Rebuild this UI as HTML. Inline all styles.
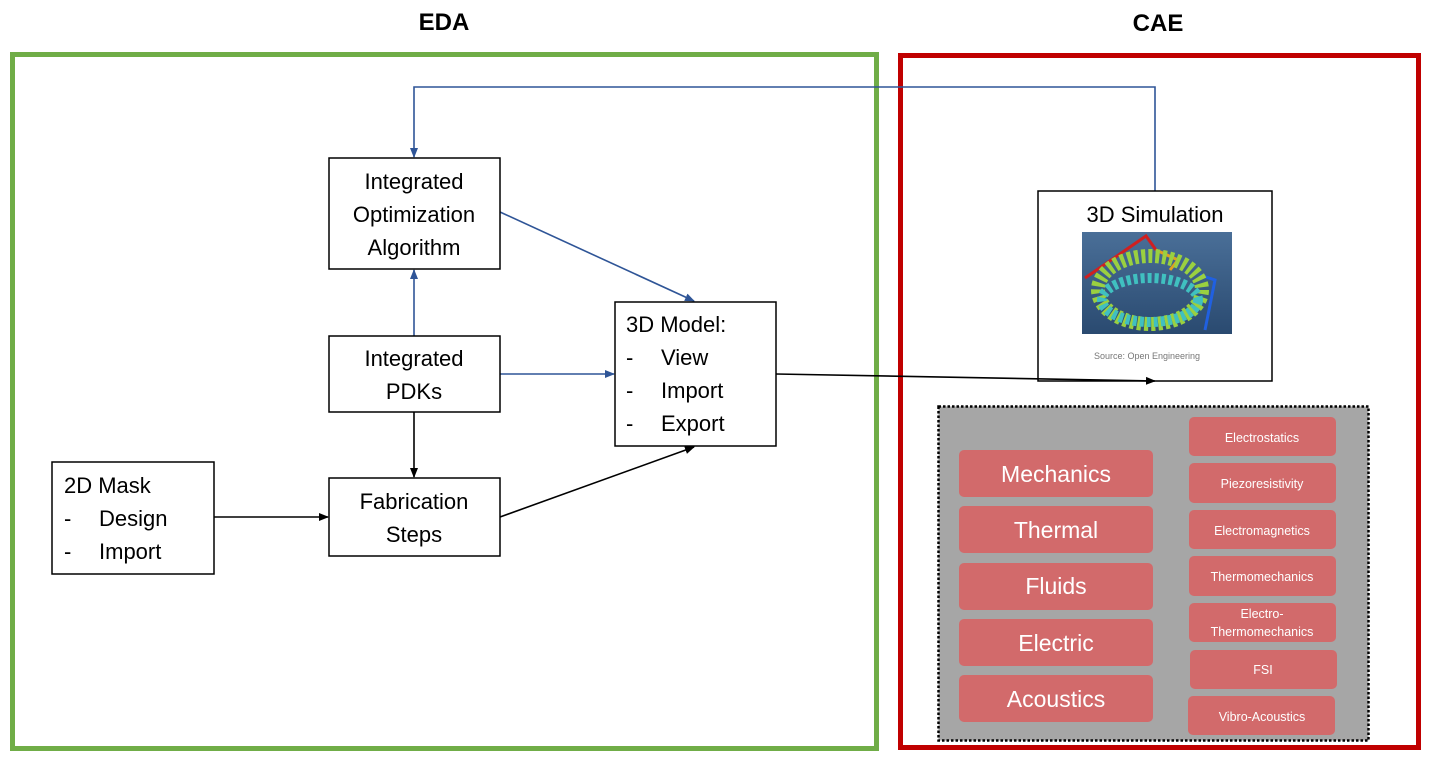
<!DOCTYPE html>
<html><head><meta charset="utf-8"><style>
html,body{margin:0;padding:0;background:#fff;}
svg text{font-family:"Liberation Sans",sans-serif;}
</style></head><body>
<svg width="1431" height="770" viewBox="0 0 1431 770" xmlns="http://www.w3.org/2000/svg">
<defs>
<marker id="ab" markerWidth="10" markerHeight="10" refX="9" refY="5" orient="auto" markerUnits="userSpaceOnUse"><path d="M0,1 L10,5 L0,9 Z" fill="#2f5597"/></marker>
<marker id="ak" markerWidth="10" markerHeight="10" refX="9" refY="5" orient="auto" markerUnits="userSpaceOnUse"><path d="M0,1 L10,5 L0,9 Z" fill="#000"/></marker>
<linearGradient id="bg" x1="0" y1="0" x2="0" y2="1"><stop offset="0" stop-color="#4a6f98"/><stop offset="1" stop-color="#2a4a70"/></linearGradient>
</defs>
<text x="444" y="30" font-size="24" font-weight="bold" text-anchor="middle">EDA</text>
<text x="1158" y="31" font-size="24" font-weight="bold" text-anchor="middle">CAE</text>
<rect x="12.5" y="54.5" width="864" height="694" fill="none" stroke="#70ad47" stroke-width="5"/>
<rect x="900.5" y="55.5" width="518" height="692" fill="none" stroke="#c00000" stroke-width="5"/>

<g fill="none" stroke-width="1.6">
<polyline points="1155,191 1155,87 414,87 414,157" stroke="#2f5597" marker-end="url(#ab)"/>
<line x1="414" y1="336" x2="414" y2="270" stroke="#2f5597" marker-end="url(#ab)"/>
<line x1="500" y1="212" x2="694" y2="301" stroke="#2f5597" marker-end="url(#ab)"/>
<line x1="500" y1="374" x2="614" y2="374" stroke="#2f5597" marker-end="url(#ab)"/>
<line x1="414" y1="412" x2="414" y2="477" stroke="#000" marker-end="url(#ak)"/>
<line x1="214" y1="517" x2="328" y2="517" stroke="#000" marker-end="url(#ak)"/>
<line x1="500" y1="517" x2="694" y2="447" stroke="#000" marker-end="url(#ak)"/>
</g>

<g fill="#fff" stroke="#000" stroke-width="1.5">
<rect x="329" y="158" width="171" height="111"/>
<rect x="329" y="336" width="171" height="76"/>
<rect x="615" y="302" width="161" height="144"/>
<rect x="52" y="462" width="162" height="112"/>
<rect x="329" y="478" width="171" height="78"/>
<rect x="1038" y="191" width="234" height="190"/>
</g>
<line x1="776" y1="374" x2="1155" y2="381" stroke="#000" stroke-width="1.6" marker-end="url(#ak)"/>
<g font-size="22" fill="#000">
<text x="414" y="189" text-anchor="middle">Integrated</text>
<text x="414" y="222" text-anchor="middle">Optimization</text>
<text x="414" y="255" text-anchor="middle">Algorithm</text>
<text x="414" y="366" text-anchor="middle">Integrated</text>
<text x="414" y="399" text-anchor="middle">PDKs</text>
<text x="626" y="332">3D Model:</text>
<text x="626" y="365">-</text><text x="661" y="365">View</text>
<text x="626" y="398">-</text><text x="661" y="398">Import</text>
<text x="626" y="431">-</text><text x="661" y="431">Export</text>
<text x="64" y="493">2D Mask</text>
<text x="64" y="526">-</text><text x="99" y="526">Design</text>
<text x="64" y="559">-</text><text x="99" y="559">Import</text>
<text x="414" y="509" text-anchor="middle">Fabrication</text>
<text x="414" y="542" text-anchor="middle">Steps</text>
<text x="1155" y="222" text-anchor="middle">3D Simulation</text>
</g>
<rect x="1082" y="232" width="150" height="102" fill="url(#bg)"/>
<polyline points="1085,278 1146,236 1156,250" fill="none" stroke="#d02020" stroke-width="3"/>
<polyline points="1156,250 1178,260 1170,270" fill="none" stroke="#e0a020" stroke-width="3"/>
<polyline points="1200,275 1215,280 1205,330" fill="none" stroke="#2060e0" stroke-width="3"/>
<ellipse cx="1150" cy="290" rx="52" ry="34" fill="none" stroke="#9ad040" stroke-width="14" stroke-dasharray="4 3"/>
<ellipse cx="1150" cy="300" rx="48" ry="22" fill="none" stroke="#40c0c0" stroke-width="10" stroke-dasharray="4 3"/>
<text x="1147" y="359" font-size="9" fill="#777" text-anchor="middle">Source: Open Engineering</text>

<rect x="938.5" y="406.5" width="430" height="334" fill="#a6a6a6" stroke="#000" stroke-width="2.5" stroke-dasharray="2.5 2"/>
<g fill="#d26a6b">
<rect x="959" y="450" width="194" height="47" rx="5"/>
<rect x="959" y="506" width="194" height="47" rx="5"/>
<rect x="959" y="563" width="194" height="47" rx="5"/>
<rect x="959" y="619" width="194" height="47" rx="5"/>
<rect x="959" y="675" width="194" height="47" rx="5"/>
<rect x="1189" y="417" width="147" height="39" rx="5"/>
<rect x="1189" y="463" width="147" height="40" rx="5"/>
<rect x="1189" y="510" width="147" height="39" rx="5"/>
<rect x="1189" y="556" width="147" height="40" rx="5"/>
<rect x="1189" y="603" width="147" height="39" rx="5"/>
<rect x="1190" y="650" width="147" height="39" rx="5"/>
<rect x="1188" y="696" width="147" height="39" rx="5"/>
</g>
<g fill="#fff" text-anchor="middle">
<g font-size="23">
<text x="1056" y="482">Mechanics</text>
<text x="1056" y="538">Thermal</text>
<text x="1056" y="594">Fluids</text>
<text x="1056" y="651">Electric</text>
<text x="1056" y="707">Acoustics</text>
</g>
<g font-size="12.5">
<text x="1262" y="442">Electrostatics</text>
<text x="1262" y="488">Piezoresistivity</text>
<text x="1262" y="535">Electromagnetics</text>
<text x="1262" y="581">Thermomechanics</text>
<text x="1262" y="618">Electro-</text>
<text x="1262" y="636">Thermomechanics</text>
<text x="1263" y="674">FSI</text>
<text x="1262" y="721">Vibro-Acoustics</text>
</g>
</g>
</svg>
</body></html>
